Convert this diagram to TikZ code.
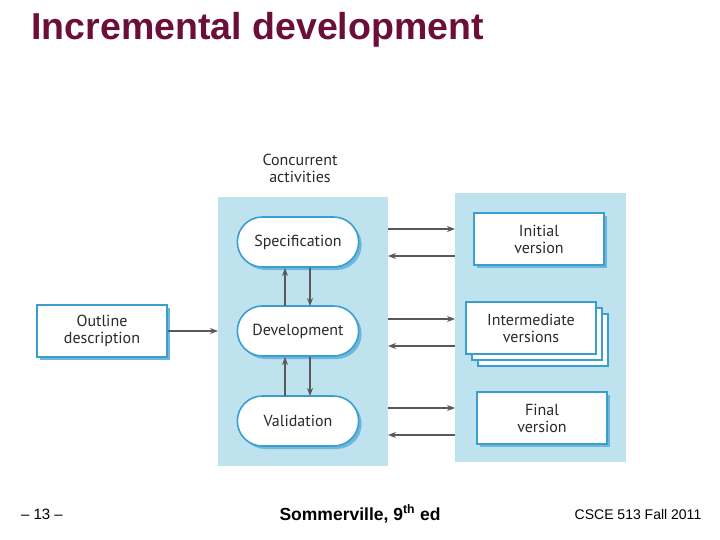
\documentclass[tikz,border=0pt]{standalone}
\usepackage{fontspec}
\setmainfont{Liberation Sans}
\newfontfamily\dfont{PT Sans}
\usetikzlibrary{shapes.misc,arrows.meta}
\definecolor{panel}{HTML}{BEE2EE}
\definecolor{edge}{HTML}{3A9FD0}
\definecolor{shade}{HTML}{6FB6DA}
\definecolor{title}{HTML}{6B0F3A}
\definecolor{txt}{HTML}{2A2A2A}
\begin{document}
\begin{tikzpicture}[x=1pt,y=-1pt,
 stad/.style={rounded rectangle,draw=edge,line width=1.6pt,fill=white,minimum width=128pt,minimum height=50pt,font=\dfont\fontsize{16}{17}\selectfont,text=txt},
 vbox/.style={rectangle,draw=edge,line width=1.6pt,fill=white,minimum width=130pt,minimum height=52pt,align=center,font=\dfont\fontsize{16}{17}\selectfont,text=txt},
 shd/.style={rectangle,fill=shade,minimum width=130pt,minimum height=52pt},
 sshd/.style={rounded rectangle,fill=shade,minimum width=128pt,minimum height=50pt},
 arr/.style={draw=gray!70!black,line width=1.2pt,-{Stealth[length=8pt,width=6pt]}}]
\useasboundingbox (0,0) rectangle (720,540);
\fill[white] (0,0) rectangle (720,540);
\node[anchor=west,font=\bfseries\fontsize{37.5}{42}\selectfont,text=title] (t) at (28,30) {Incremental development};
\fill[panel] (218,197) rectangle (388,466);
\fill[panel] (455,193) rectangle (626,462);
\node[align=center,font=\dfont\fontsize{16}{17}\selectfont,text=txt] (ca) at (300,168) {Concurrent\\activities};
\foreach \y in {242,331,421}{\node[sshd] at (301,\y+3) {};}
\node[stad] (s) at (298,242) {Specification};
\node[stad] (d) at (298,331) {Development};
\node[stad] (v) at (298,421) {Validation};
\node[shd] at (105,334) {};
\node[vbox] (o) at (102,331) {Outline\\description};
\node[shd] at (542,242) {};
\node[vbox] (i) at (539,239) {Initial\\version};
\node[vbox] (m3) at (543,340) {};
\node[vbox] (m2) at (537,334) {};
\node[vbox] (m) at (531,328) {Intermediate\\versions};
\node[shd] at (545,421) {};
\node[vbox] (f) at (542,418) {Final\\version};
\draw[arr] (o.east) -- (218,331);
\foreach \y in {229,319,408}{\draw[arr] (388,\y) -- (455,\y);}
\foreach \y in {256,346,435}{\draw[arr] (455,\y) -- (388,\y);}
\draw[arr] (285,306) -- (285,268);
\draw[arr] (310,268) -- (310,306);
\draw[arr] (285,396) -- (285,357);
\draw[arr] (310,357) -- (310,396);
\node[font=\fontsize{15}{17}\selectfont] (p) at (42,514) {– 13 –};
\node[font=\bfseries\fontsize{17.5}{20}\selectfont] (a) at (360,514) {Sommerville, 9\textsuperscript{th} ed};
\node[font=\fontsize{14}{16}\selectfont] (c) at (638,514) {CSCE 513 Fall 2011};
\end{tikzpicture}
\end{document}
